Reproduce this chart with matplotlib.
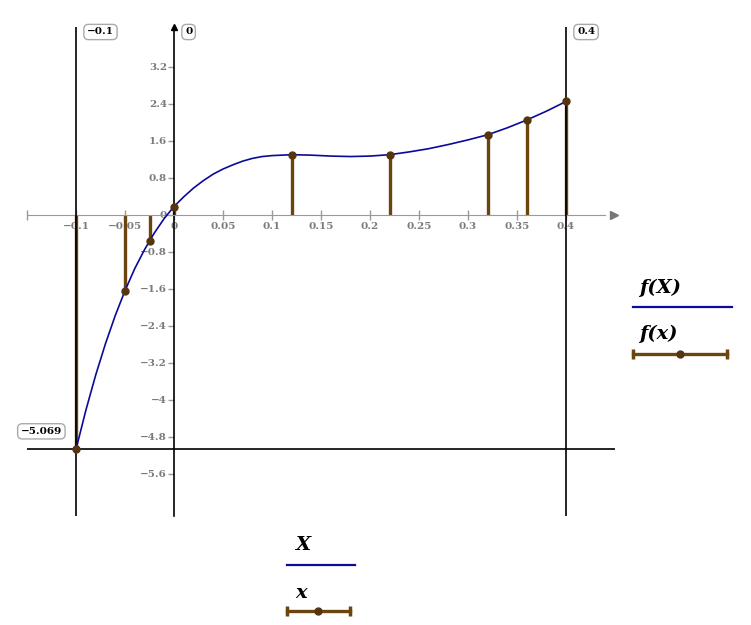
import matplotlib
matplotlib.use('Agg')
import matplotlib.pyplot as plt
from matplotlib.lines import Line2D

# curve f(X)
X = [-0.1, -0.09, -0.08, -0.07, -0.06, -0.05, -0.04, -0.03, -0.02, -0.01,
     0.0, 0.01, 0.02, 0.03, 0.04, 0.05, 0.06, 0.07, 0.08, 0.09, 0.1,
     0.12, 0.14, 0.16, 0.18, 0.2, 0.22, 0.24, 0.26, 0.28, 0.3,
     0.32, 0.34, 0.36, 0.38, 0.4]
fX = [-5.069, -4.23, -3.47, -2.79, -2.18, -1.64, -1.16, -0.75, -0.39, -0.08,
      0.18, 0.39, 0.58, 0.74, 0.88, 0.99, 1.08, 1.16, 1.22, 1.26, 1.28,
      1.30, 1.29, 1.27, 1.26, 1.27, 1.30, 1.36, 1.43, 1.52, 1.62,
      1.73, 1.88, 2.05, 2.24, 2.45]

# sampled points f(x)
x = [-0.1, -0.05, -0.025, 0.0, 0.12, 0.22, 0.32, 0.36, 0.4]
fx = [-5.069, -1.64, -0.56, 0.18, 1.30, 1.30, 1.73, 2.06, 2.45]

xticks = [-0.15, -0.1, -0.05, 0, 0.05, 0.1, 0.15, 0.2, 0.25, 0.3, 0.35, 0.4]
xtick_labels = ['', '−0.1', '−0.05', '0', '0.05', '0.1', '0.15', '0.2',
                '0.25', '0.3', '0.35', '0.4']
yticks = [-5.6, -4.8, -4, -3.2, -2.4, -1.6, -0.8, 0, 0.8, 1.6, 2.4, 3.2]
ytick_labels = ['−5.6', '−4.8', '−4', '−3.2', '−2.4', '−1.6', '−0.8', '0',
                '0.8', '1.6', '2.4', '3.2']

markers_x = [-0.1, 0.0, 0.4]
marker_y = -5.069

W, H = 751, 625
BLUE = '#0a0a9a'
BROWN = '#6b4510'
DOT = '#553510'
GRAY = '#9a9a9a'
LABEL_GRAY = '#7a7a7a'

fig = plt.figure(figsize=(W / 100, H / 100), dpi=100)
ax = fig.add_axes([27 / W, 109 / H, 588 / W, 489 / H])
ax.set_xlim(-0.15, 0.45)
ax.set_ylim(-6.51, 4.06)

for side in ('top', 'right'):
    ax.spines[side].set_visible(False)
ax.spines['bottom'].set_position(('data', 0))
ax.spines['bottom'].set_color(GRAY)
ax.spines['bottom'].set_bounds(-0.15, 0.44)
ax.spines['left'].set_position(('data', 0))
ax.spines['left'].set_color('black')
ax.spines['left'].set_linewidth(1.2)
ax.spines['left'].set_bounds(-6.51, 3.98)

ax.set_xticks(xticks, xtick_labels)
ax.set_yticks(yticks, ytick_labels)
ax.tick_params(axis='x', direction='inout', length=7, width=1, color=GRAY,
               labelcolor=LABEL_GRAY, labelsize=7.5, pad=2)
ax.tick_params(axis='y', direction='out', length=4, width=1, color=GRAY,
               labelcolor=LABEL_GRAY, labelsize=7.5, pad=1)
for lab in ax.get_xticklabels() + ax.get_yticklabels():
    lab.set_fontfamily('DejaVu Serif')
    lab.set_fontweight('bold')

# axis arrows
ax.plot(0.449, 0, marker='>', ms=6, color='#777777', clip_on=False)
ax.plot(0, 1, marker='^', ms=5, color='black', clip_on=False,
        transform=ax.get_xaxis_transform())

# stems and curve
ax.vlines(x, 0, fx, color=BROWN, lw=2.4, zorder=2)
for xm in markers_x[::2]:
    ax.axvline(xm, color='black', lw=1.2, zorder=3)
ax.axhline(marker_y, color='black', lw=1.2, zorder=3)
ax.plot(X, fX, color=BLUE, lw=1.2, zorder=4)
ax.plot(x, fx, 'o', color=DOT, ms=5, zorder=5)

box = dict(boxstyle='round,pad=0.3,rounding_size=0.45', fc='white',
           ec='#aaaaaa', lw=1)
txt = dict(fontfamily='DejaVu Serif', fontweight='bold', fontsize=7.5,
           color='black')
for xm, lab in zip(markers_x, ['−0.1', '0', '0.4']):
    ax.annotate(lab, xy=(xm, 1), xycoords=('data', 'axes fraction'),
                xytext=(11, -5), textcoords='offset pixels',
                ha='left', va='center', bbox=box, **txt)
ax.annotate('−5.069', xy=(-0.1, marker_y), xytext=(-14, 18),
            textcoords='offset pixels', ha='right', va='center',
            bbox=box, **txt)


def fpos(px, py):
    return px / W, 1 - py / H


def legend_line(x0, x1, y, color, dot=None):
    (a, b), (c, _) = fpos(x0, y), fpos(x1, y)
    fig.add_artist(Line2D([a, c], [b, b], color=color, lw=1.6 if dot is None else 2.4,
                          transform=fig.transFigure))
    if dot is not None:
        fig.add_artist(Line2D([a, c], [b, b], ls='none', marker='|', ms=7, mew=2.5,
                              color=color, transform=fig.transFigure))
        d, _ = fpos(dot, y)
        fig.add_artist(Line2D([d], [b], ls='none', marker='o', ms=5, color=DOT,
                              transform=fig.transFigure))


leg = dict(fontfamily='DejaVu Serif', fontstyle='italic', fontweight='bold',
           fontsize=14, ha='left', va='center', color='black')
fig.text(*fpos(295, 545), 'X', **leg)
legend_line(287, 355, 565, BLUE)
fig.text(*fpos(295, 593), 'x', **leg)
legend_line(287, 350, 611, BROWN, dot=318)

fig.text(*fpos(639, 288), 'f(X)', **leg)
legend_line(633, 732, 307, BLUE)
fig.text(*fpos(639, 334), 'f(x)', **leg)
legend_line(633, 727, 354, BROWN, dot=680)

fig.savefig('out.png', dpi=100, facecolor='white')
